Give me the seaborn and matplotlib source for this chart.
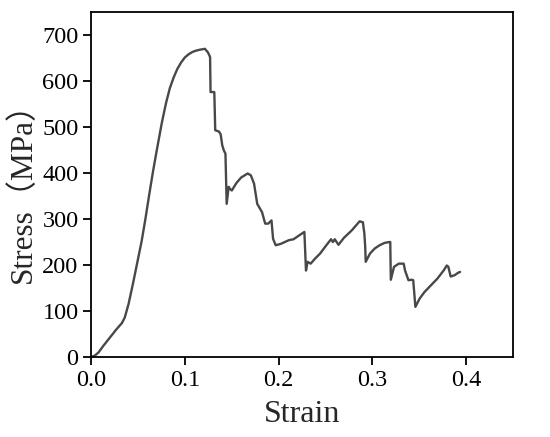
import matplotlib
matplotlib.use("Agg")
import matplotlib.pyplot as plt
import seaborn as sns
import pandas as pd

# strain / stress
strain = [0.000, 0.004, 0.008, 0.013, 0.020, 0.027, 0.033, 0.036, 0.040, 0.045,
          0.050, 0.054, 0.058, 0.062, 0.066, 0.070, 0.0756, 0.080, 0.084, 0.088,
          0.092, 0.096, 0.100, 0.104, 0.108, 0.112, 0.116, 0.1215, 0.1248, 0.1270,
          0.1275, 0.1315, 0.1325, 0.1366, 0.1383,
          0.1400, 0.1417, 0.1434, 0.1447, 0.1468, 0.1485, 0.1502, 0.155, 0.160, 0.1671,
          0.1705, 0.1739, 0.1773, 0.1824, 0.1858, 0.1890, 0.1925, 0.1942, 0.1970, 0.2024,
          0.211, 0.216, 0.221, 0.2276, 0.2293, 0.2310, 0.2343, 0.2390, 0.2444, 0.2495,
          0.256, 0.258, 0.260, 0.264, 0.2697, 0.278, 0.2865, 0.2900, 0.2916, 0.2925,
          0.2930, 0.2976, 0.3027, 0.3078, 0.3130, 0.3180, 0.3192, 0.3198, 0.3232, 0.3283,
          0.3335, 0.3350, 0.3386, 0.3420, 0.3437, 0.3460, 0.3505, 0.3556, 0.3607, 0.3693,
          0.3761, 0.3795, 0.3812, 0.3836, 0.3880, 0.3914, 0.3937]
stress = [0, 3, 10, 24, 42, 60, 74, 86, 115, 162,
          212, 252, 300, 352, 402, 448, 510, 552, 584, 607,
          626, 640, 651, 658, 663, 666, 668, 670, 662, 652,
          576, 576, 493, 490, 484,
          460, 449, 442, 333, 370, 365, 362, 378, 390, 399,
          395, 377, 333, 315, 290, 290, 297, 257, 243, 246,
          254, 256, 263, 272, 188, 207, 203, 214, 225, 239,
          256, 250, 256, 244, 259, 275, 295, 293, 268, 239,
          207, 225, 236, 243, 248, 250, 250, 168, 196, 203,
          203, 188, 167, 168, 167, 109, 127, 141, 152, 170,
          188, 199, 196, 175, 178, 183, 185]

x_ticks = [0.0, 0.1, 0.2, 0.3, 0.4]
y_ticks = [0, 100, 200, 300, 400, 500, 600, 700]

df = pd.DataFrame({"strain": strain, "stress": stress})

sns.set_style("ticks")
plt.rcParams['font.family'] = ['Liberation Serif', 'Noto Sans CJK SC']

fig = plt.figure(figsize=(5.5, 4.37), dpi=100)
ax = fig.add_axes([0.1655, 0.183, 0.767, 0.7895])

sns.lineplot(data=df, x="strain", y="stress", ax=ax, sort=False, estimator=None,
             color="#484848", linewidth=1.7)

ax.set_xlim(0, 0.45)
ax.set_ylim(0, 750)
ax.set_xticks(x_ticks)
ax.set_xticklabels([f"{v:.1f}" for v in x_ticks])
ax.set_yticks(y_ticks)

for s in ax.spines.values():
    s.set_visible(True)
    s.set_linewidth(1.3)
    s.set_color("black")
ax.tick_params(axis="both", direction="out", length=6, width=1.3, labelsize=17.5,
               pad=3, colors="black", top=False, right=False)

ax.set_xlabel("Strain", fontsize=23, labelpad=7)
ax.set_ylabel("Stress（MPa）", fontsize=22.5, labelpad=3)

fig.savefig("out.png", dpi=100)
